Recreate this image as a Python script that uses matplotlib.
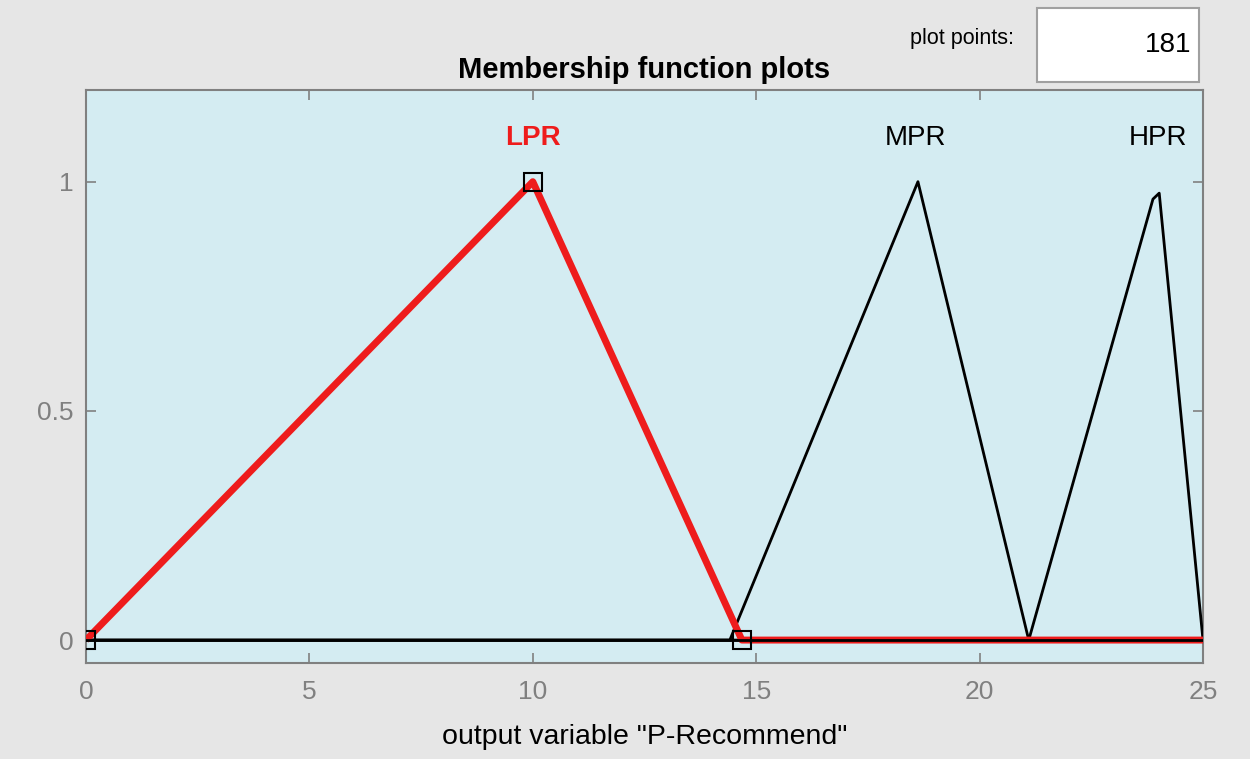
import matplotlib.pyplot as plt
from matplotlib.patches import Rectangle

plt.rcParams['font.family'] = ['Liberation Sans', 'DejaVu Sans']

# membership functions of output variable "P-Recommend"
mf_names = ['LPR', 'MPR', 'HPR']
lpr_x = [0, 10, 14.68, 25]
lpr_y = [0, 1, 0, 0]
mpr_x = [0, 14.41, 18.62, 21.1, 25]
mpr_y = [0, 0, 1, 0, 0]
hpr_x = [0, 21.1, 23.88, 24.02, 25]
hpr_y = [0, 0, 0.962, 0.975, 0]
label_x = [10, 18.57, 24.0]
label_y = 1.095
x_ticks = [0, 5, 10, 15, 20, 25]
y_ticks = [0, 0.5, 1]
plot_points = 181

fig = plt.figure(figsize=(12.5, 7.59), dpi=100, facecolor='#e6e6e6')
ax = fig.add_axes([0.0688, 0.1265, 0.8936, 0.7549])
ax.set_facecolor('#d4ecf2')

# unselected MFs first, selected one (red) on top
ax.plot(mpr_x, mpr_y, color='black', lw=2, zorder=3)
ax.plot(hpr_x, hpr_y, color='black', lw=2, zorder=3)
ax.plot(lpr_x, lpr_y, color='#ee1c1c', lw=5, zorder=4, solid_capstyle='butt')
ax.plot([0, 25], [0, 0], color='black', lw=2, zorder=5)
ax.plot(lpr_x[:3], lpr_y[:3], ls='none', marker='s', ms=13, mfc='none',
        mec='black', mew=1.5, zorder=6)

colors = ['#ee1c1c', 'black', 'black']
weights = ['bold', 'normal', 'normal']
for name, lx, c, w in zip(mf_names, label_x, colors, weights):
    ax.text(lx, label_y, name, color=c, fontweight=w, fontsize=20,
            ha='center', va='center')

ax.set_xlim(0, 25)
ax.set_ylim(-0.05, 1.2)
ax.set_xticks(x_ticks)
ax.set_yticks(y_ticks)
ax.set_yticklabels(['0', '0.5', '1'])
ax.tick_params(direction='in', top=True, right=True, length=7, width=1.2,
               color='#808080', labelcolor='#808080', labelsize=19)
ax.tick_params(axis='x', pad=12)
ax.tick_params(axis='y', pad=9)
for s in ax.spines.values():
    s.set_color('#808080')
    s.set_linewidth(1.5)

ax.set_title('Membership function plots', fontsize=21, fontweight='bold', pad=9)
ax.set_xlabel('output variable "P-Recommend"', fontsize=20.5, labelpad=15)

# "plot points" edit box
fig.text(0.811, 0.949, 'plot points:', fontsize=15.5, ha='right', va='center')
fig.patches.append(Rectangle((0.8296, 0.892), 0.1296, 0.098, transform=fig.transFigure,
                             facecolor='white', edgecolor='#a0a0a0', lw=1.5))
fig.text(0.953, 0.941, str(plot_points), fontsize=20, ha='right', va='center')

fig.savefig('out.png', dpi=100, facecolor=fig.get_facecolor())
